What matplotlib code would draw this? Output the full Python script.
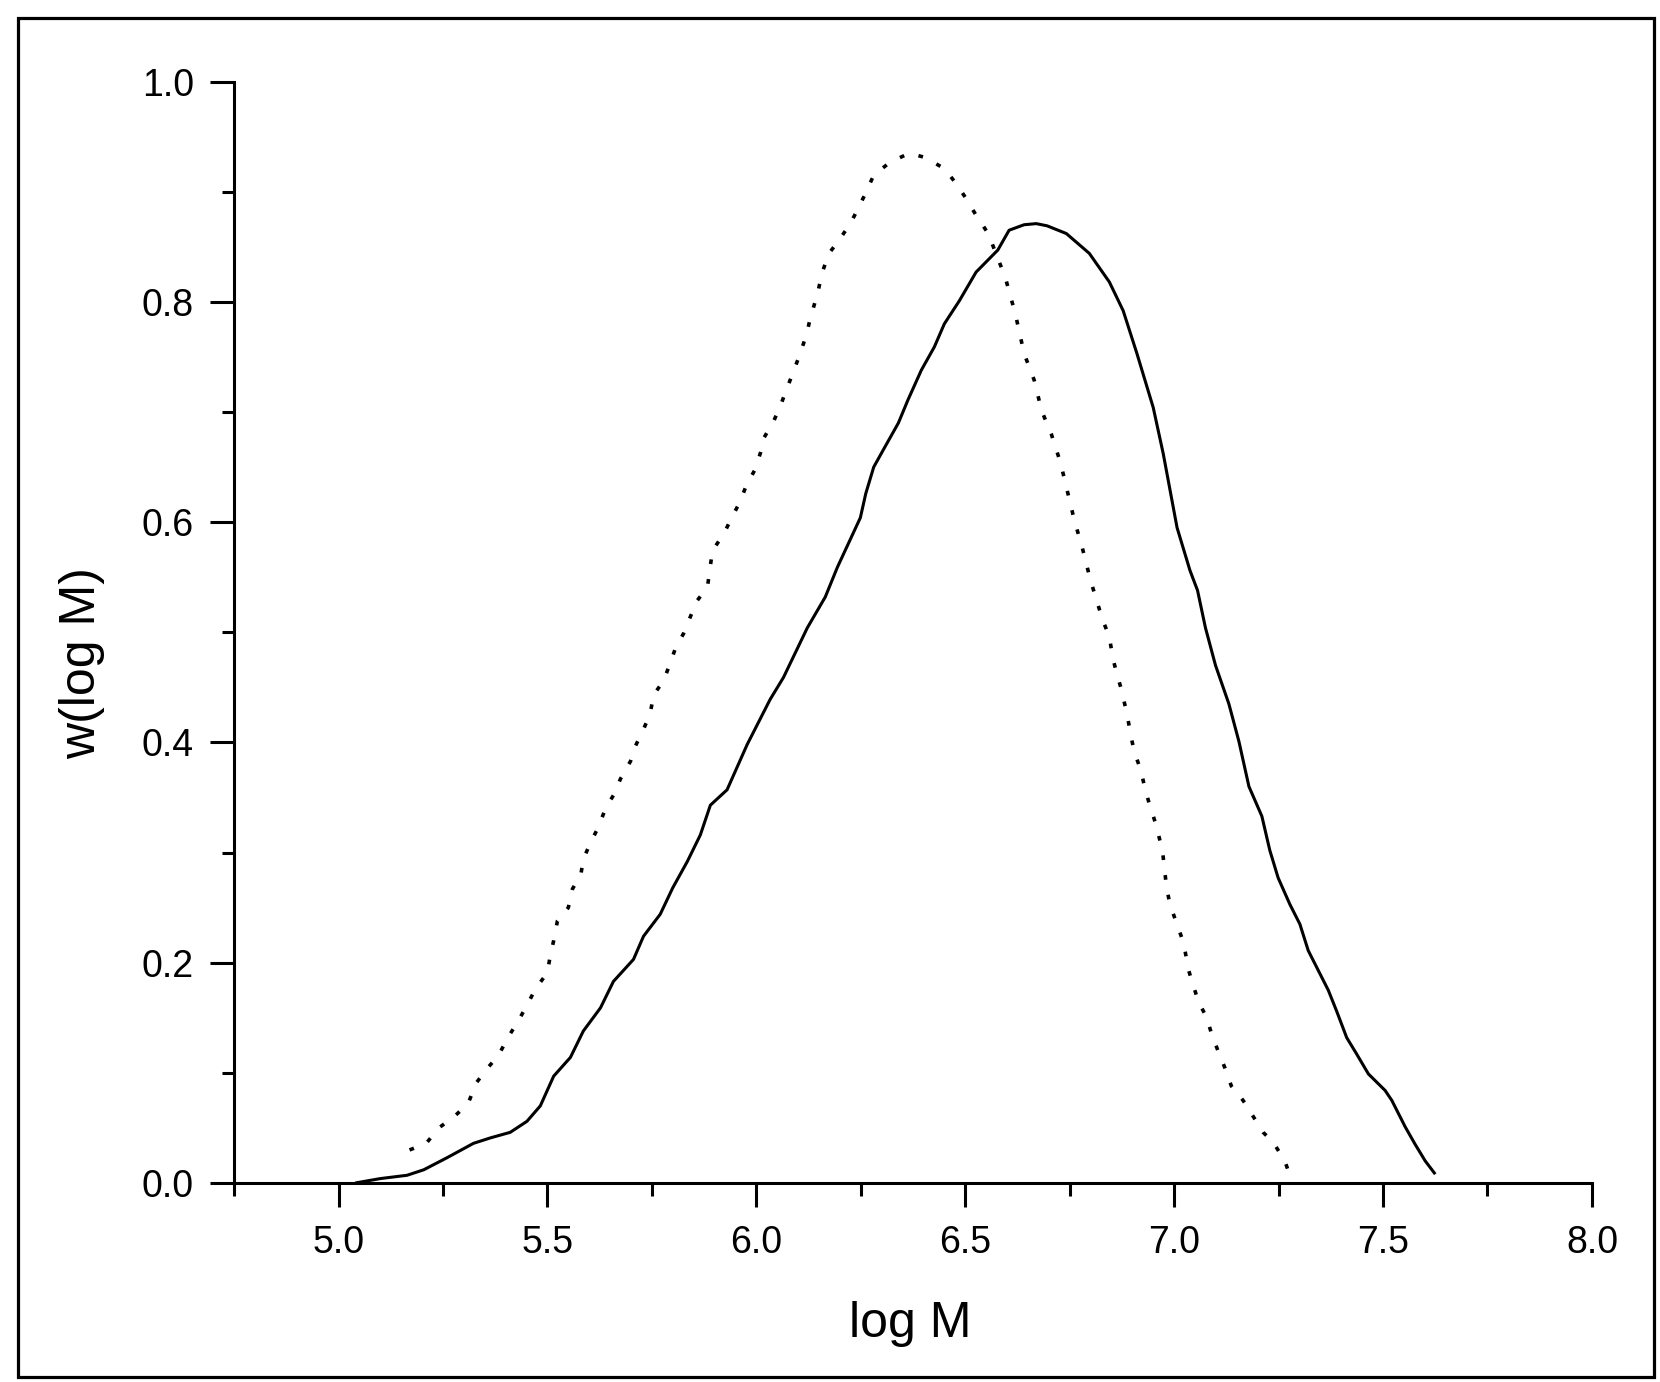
import matplotlib
matplotlib.use('Agg')
import matplotlib.pyplot as plt
from matplotlib.patches import Rectangle
from matplotlib.ticker import MultipleLocator

#Get data
logM_solid = [5.04, 5.10, 5.164, 5.204, 5.26, 5.323, 5.364, 5.411, 5.451, 5.483,
              5.515, 5.555, 5.586, 5.627, 5.658, 5.706, 5.73, 5.77, 5.80, 5.835,
              5.866, 5.89, 5.93, 5.978, 6.033, 6.065, 6.122, 6.165, 6.194, 6.249,
              6.262, 6.281, 6.303, 6.34, 6.363, 6.395, 6.426, 6.45, 6.486, 6.526,
              6.578, 6.605, 6.641, 6.67, 6.696, 6.742, 6.797, 6.845, 6.878, 6.911,
              6.95, 6.974, 7.007, 7.038, 7.056, 7.075, 7.099, 7.131, 7.155, 7.179,
              7.21, 7.229, 7.249, 7.277, 7.301, 7.321, 7.345, 7.369, 7.389, 7.413,
              7.437, 7.465, 7.505, 7.521, 7.553, 7.577, 7.601, 7.625]
w_solid = [0.000, 0.004, 0.007, 0.012, 0.023, 0.036, 0.041, 0.046, 0.056, 0.070,
           0.097, 0.114, 0.138, 0.159, 0.183, 0.203, 0.224, 0.244, 0.268, 0.292,
           0.316, 0.343, 0.357, 0.398, 0.439, 0.459, 0.504, 0.532, 0.559, 0.604,
           0.626, 0.650, 0.665, 0.690, 0.711, 0.738, 0.759, 0.780, 0.801, 0.827,
           0.847, 0.865, 0.870, 0.871, 0.869, 0.862, 0.844, 0.818, 0.792, 0.753,
           0.704, 0.662, 0.595, 0.556, 0.538, 0.504, 0.470, 0.435, 0.401, 0.360,
           0.333, 0.302, 0.277, 0.253, 0.235, 0.211, 0.193, 0.175, 0.156, 0.132,
           0.117, 0.099, 0.084, 0.075, 0.051, 0.035, 0.020, 0.008]

logM_dot = [5.17, 5.21, 5.24, 5.276, 5.31, 5.33, 5.356, 5.383, 5.407, 5.43,
            5.452, 5.471, 5.50, 5.507, 5.515, 5.524, 5.55, 5.56, 5.58, 5.586,
            5.603, 5.622, 5.639, 5.658, 5.675, 5.699, 5.711, 5.73, 5.746, 5.754,
            5.778, 5.79, 5.806, 5.826, 5.842, 5.859, 5.883, 5.895, 5.923, 5.941,
            5.959, 5.978, 5.996, 6.01, 6.019, 6.042, 6.06, 6.074, 6.088, 6.102,
            6.12, 6.129, 6.147, 6.157, 6.174, 6.198, 6.225, 6.244, 6.262, 6.281,
            6.321, 6.367, 6.404, 6.45, 6.477, 6.50, 6.527, 6.555, 6.596, 6.62,
            6.641, 6.665, 6.683, 6.706, 6.728, 6.742, 6.761, 6.78, 6.80, 6.829,
            6.845, 6.853, 6.861, 6.873, 6.881, 6.889, 6.897, 6.905, 6.921, 6.929,
            6.94, 6.956, 6.972, 6.982, 6.99, 7.002, 7.018, 7.026, 7.034, 7.046,
            7.058, 7.078, 7.09, 7.105, 7.121, 7.137, 7.165, 7.185, 7.213, 7.237,
            7.265, 7.275]
w_dot = [0.030, 0.036, 0.050, 0.060, 0.072, 0.091, 0.104, 0.116, 0.133, 0.147,
         0.162, 0.176, 0.191, 0.207, 0.220, 0.238, 0.250, 0.267, 0.280, 0.294,
         0.309, 0.323, 0.340, 0.352, 0.367, 0.383, 0.397, 0.412, 0.426, 0.443,
         0.456, 0.468, 0.485, 0.499, 0.514, 0.529, 0.541, 0.574, 0.590, 0.604,
         0.617, 0.635, 0.647, 0.663, 0.677, 0.692, 0.708, 0.722, 0.736, 0.750,
         0.770, 0.785, 0.808, 0.826, 0.844, 0.856, 0.871, 0.885, 0.899, 0.915,
         0.927, 0.935, 0.931, 0.921, 0.908, 0.895, 0.878, 0.862, 0.822, 0.789,
         0.753, 0.729, 0.701, 0.680, 0.654, 0.632, 0.602, 0.577, 0.547, 0.511,
         0.496, 0.477, 0.465, 0.449, 0.436, 0.422, 0.405, 0.391, 0.374, 0.360,
         0.345, 0.326, 0.302, 0.268, 0.253, 0.240, 0.223, 0.211, 0.194, 0.179,
         0.165, 0.150, 0.135, 0.120, 0.105, 0.088, 0.075, 0.063, 0.046, 0.037,
         0.020, 0.009]

x_ticks = [5.0, 5.5, 6.0, 6.5, 7.0, 7.5, 8.0]
y_ticks = [0.0, 0.2, 0.4, 0.6, 0.8, 1.0]

#############################################################################
#PLOT
#############################################################################

plt.rcParams['font.family'] = ['Liberation Sans', 'DejaVu Sans']

fig = plt.figure(figsize=(16.6, 13.82), dpi=100)
ax = fig.add_axes([0.141, 0.144, 0.818, 0.797])

ax.plot(logM_solid, w_solid, lw=2.2, color='black', solid_capstyle='butt')
ax.plot(logM_dot, w_dot, lw=2.6, color='black', ls=(0, (1.3, 4.2)))

ax.set_xlim(4.75, 8.0)
ax.set_ylim(0.0, 1.0)
ax.set_xticks(x_ticks)
ax.set_yticks(y_ticks)
ax.set_xticklabels(['%.1f' % v for v in x_ticks])
ax.set_yticklabels(['%.1f' % v for v in y_ticks])
ax.xaxis.set_minor_locator(MultipleLocator(0.25))
ax.yaxis.set_minor_locator(MultipleLocator(0.1))

ax.spines['top'].set_visible(False)
ax.spines['right'].set_visible(False)
ax.spines['left'].set_linewidth(2.2)
ax.spines['bottom'].set_linewidth(2.2)

ax.tick_params(which='major', direction='out', length=17, width=2.2,
               labelsize=27, color='black')
ax.tick_params(which='minor', direction='out', length=9, width=2.2)
ax.tick_params(axis='x', which='major', pad=13)
ax.tick_params(axis='y', which='major', pad=12)

fig.text(910/1660, (1382-1337)/1382, 'log M', fontsize=36,
         ha='center', va='baseline')
fig.text(82/1660, 1 - 663/1382, 'w(log M)', fontsize=36,
         ha='center', va='center', rotation=90)

# outer frame round the whole picture
fig.patches.append(Rectangle((18/1660, 5/1382), 1636/1660, 1359/1382,
                             transform=fig.transFigure, fill=False,
                             edgecolor='black', lw=2.3))

plt.savefig('out.png', dpi=100, facecolor='white')
plt.close()
